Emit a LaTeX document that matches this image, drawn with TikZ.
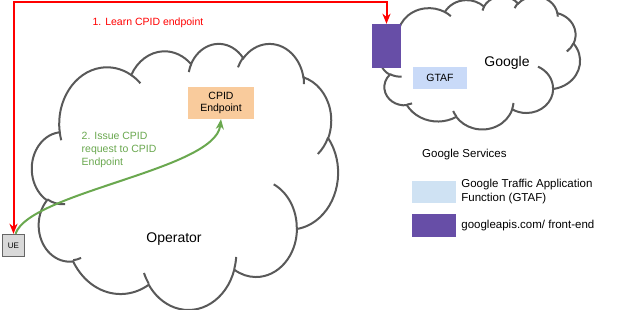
\documentclass[tikz,border=0pt]{standalone}
\usepackage{fontspec}
\setmainfont{Liberation Sans}
\usepackage{xcolor}
\usepackage{tikz}
\usetikzlibrary{arrows.meta,positioning}
\definecolor{Cloud}{HTML}{595959}
\definecolor{Purple}{HTML}{674EA7}
\definecolor{GtafBlue}{HTML}{C9DAF8}
\definecolor{KeyBlue}{HTML}{CFE2F3}
\definecolor{Peach}{HTML}{F9CB9C}
\definecolor{UeGray}{HTML}{D9D9D9}
\definecolor{UeEdge}{HTML}{666666}
\definecolor{LearnRed}{HTML}{FF0000}
\definecolor{IssueGreen}{HTML}{6AA84F}

% one arc of the cloud outline: x radius, y radius, start angle, sweep
\newcommand\puff[4]{\pgfextra{%
    \pgfmathsetmacro\pfA{atan2((#1)*sin(#3),(#2)*cos(#3))}%
    \pgfmathsetmacro\pfB{atan2((#1)*sin((#3)+(#4)),(#2)*cos((#3)+(#4)))}%
    \pgfmathsetmacro\pfD{mod(\pfB-\pfA+720,360)}}%
  arc[start angle=\pfA, delta angle=\pfD, x radius=#1, y radius=#2]}

% cloud in the box left, top, width, height
\newcommand\cloudshape[4]{%
  \begin{scope}[shift={(#1,#2)}, xscale=#3/43.2, yscale=#4/43.2]
    \draw[cloudline, fill=white] (3.9,14.37)
      \puff{6.753}{9.19}{-190.4875}{123.7805}
      \puff{5.333}{7.267}{-144.1024}{89.9452}
      \puff{4.365}{5.945}{-145.8079}{99.723}
      \puff{4.857}{6.595}{-130.9861}{117.2417}
      \puff{5.333}{7.273}{-78.7089}{109.0269}
      \puff{6.775}{9.22}{-46.2673}{130.269}
      \puff{5.785}{7.867}{0.625}{114.0333}
      \puff{6.752}{9.215}{22.4516}{115.1726}
      \puff{7.72}{10.543}{66.2426}{75.711}
      \puff{4.36}{5.918}{-274.9421}{146.7356}
      \puff{4.345}{5.945}{-246.8285}{152.5189} -- cycle;
    \draw[cloudline]
      (4.693,26.177) \puff{4.345}{5.945}{86.742}{26.4295}
      (6.928,34.899) \puff{4.36}{5.918}{73.6105}{11.4475}
      (16.478,39.09) \puff{6.752}{9.215}{137.6242}{14.0811}
      (28.827,34.751) \puff{6.752}{9.215}{6.4533}{15.9984}
      (34.129,22.954) \puff{5.785}{7.867}{-70.2924}{70.9174}
      (41.798,15.354) \puff{5.333}{7.273}{30.318}{27.7515}
      (38.324,5.426) \puff{4.857}{6.595}{-13.7443}{14.8589}
      (29.078,3.952) \puff{4.857}{6.595}{-149.1815}{18.1954}
      (22.141,4.72) \puff{4.365}{5.945}{-163.4943}{17.6864}
      (14,5.192) \puff{6.753}{9.19}{-66.707}{12.3194}
      (4.127,15.789) \puff{6.753}{9.19}{157.6544}{11.8582};
  \end{scope}}

\begin{document}
\begin{tikzpicture}[
  x=1pt, y=1pt, yscale=-1,
  cloudline/.style={draw=Cloud, line width=2pt},
  box/.style={inner sep=0pt, align=center, font=\fontsize{10.5}{12.5}\selectfont},
  legendkey/.style={inner sep=0pt, minimum width=44pt, minimum height=22pt},
  legendtext/.style={inner sep=0pt, align=left, font=\fontsize{11.5}{14}\selectfont},
  learn/.style={draw=LearnRed, line width=2pt, {Stealth[length=10pt,width=8pt,inset=3pt]}-{Stealth[length=10pt,width=8pt,inset=3pt]}},
  issue/.style={draw=IssueGreen, line width=2pt, -{Stealth[length=10pt,width=8pt,inset=3pt]}}
]
  \useasboundingbox (0,0) rectangle (618,309);

  \cloudshape{32}{43}{306}{266}
  \cloudshape{380}{-4}{200}{133}

  \node[font=\fontsize{14}{16}\selectfont] (operator) at (174,239) {Operator};
  \node[font=\fontsize{14}{16}\selectfont] (google) at (507,63) {Google};

  \node[box, fill=Peach, minimum width=66pt, minimum height=32pt] (cpid) at (221,103) {CPID\\Endpoint};
  \node[box, fill=GtafBlue, minimum width=54pt, minimum height=22pt] (gtaf) at (440,78) {GTAF};
  \node[box, fill=Purple, minimum width=29pt, minimum height=44pt] (front) at (386.5,46) {};
  \node[box, fill=UeGray, draw=UeEdge, line width=1.4pt, minimum size=22pt,
    font=\fontsize{8}{9}\selectfont] (ue) at (13.5,245.5) {UE};

  % step 1
  \coordinate (top) at (0,1.5);
  \draw[learn] (ue.north) -- (ue.north |- top) -| (front.north);
  \node[text=LearnRed, font=\fontsize{10.5}{12.5}\selectfont] (learnlbl) at (148,23) {1. Learn CPID endpoint};

  % step 2
  \draw[issue] ([xshift=2pt]ue.north) .. controls (30,192) and (215,170) .. (cpid.south);
  \node[text=IssueGreen, align=left, anchor=north west, inner sep=0pt,
    font=\fontsize{10.5}{13}\selectfont] (issuelbl) at (81.5,132) {2. Issue CPID\\request to CPID\\Endpoint};

  % legend
  \node[legendtext, anchor=west] (services) at (422,155) {Google Services};
  \node[legendkey, fill=KeyBlue] (gtafkey) at (434,192) {};
  \node[legendkey, fill=Purple, minimum height=23pt] (frontkey) at (434,225.5) {};
  \node[legendtext, right=5pt of gtafkey] (gtaftext) {Google Traffic Application\\Function (GTAF)};
  \node[legendtext, right=5pt of frontkey] (fronttext) {googleapis.com/ front-end};
\end{tikzpicture}
\end{document}
